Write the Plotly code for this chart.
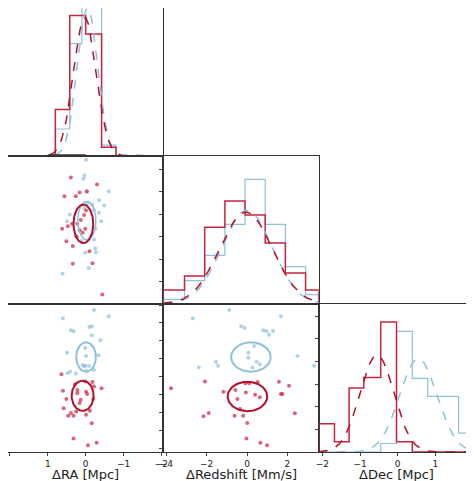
import numpy as np
import plotly.graph_objects as go
from plotly.subplots import make_subplots

RED = "#c8243e"
DARK_RED = "#b2102b"
BLUE = "#8fc1dc"

# axis ranges (RA reversed)
ra_range = [2.05, -2.05]
z_range = [-4.15, 3.55]
dec_range = [-2.1, 2.03]

# 1D histograms: bin edges and heights
ra_red_edges = [0.8, 0.42, 0.0, -0.42, -0.8]
ra_red_h = [43, 130, 113, 8]
ra_blue_edges = [0.8, 0.42, 0.1, -0.42, -0.8]
ra_blue_h = [25, 104, 150, 10]

z_edges = [-4.15, -3.1, -2.1, -1.1, -0.1, 0.9, 1.9, 2.9, 3.55]
z_red_h = [15, 30, 82, 110, 95, 65, 33, 15]
z_blue_h = [5, 25, 52, 85, 133, 85, 40, 10]

dec_edges = [-2.1, -1.68, -1.29, -0.9, -0.45, -0.03, 0.39, 0.8, 1.2, 1.62, 2.03]
dec_red_h = [30, 11, 68, 79, 138, 11, 0, 0, 0, 0]
dec_blue_h = [0, 0, 0, 0, 9, 128, 78, 59, 59, 20]

# gaussian fits: mean, sigma, peak
ra_red_fit = (0.02, 0.3, 128)
ra_blue_fit = (-0.05, 0.27, 137)
z_red_fit = (-0.05, 1.3, 98)
z_blue_fit = (0.0, 1.25, 100)
dec_red_fit = (-0.55, 0.45, 103)
dec_blue_fit = (0.55, 0.5, 99)

# scatter: RA vs Redshift
ra_z_red_ra = [0.39, -0.30, 0.56, 0.26, 0.16, -0.03, -0.01, 0.04, 0.13, 0.22, 0.36, 0.47, 0.62, 0.16, 0.01, 0.24, 0.51, 0.34, -0.10, -0.18, 0.34, -0.44, 0.08]
ra_z_red_z = [2.43, 2.07, 1.45, 1.45, 1.65, 1.71, 0.71, 0.48, 0.22, 0.02, 0.02, -0.11, -0.24, -0.31, -0.24, -0.64, -0.88, -1.13, -1.41, -2.03, -2.06, -3.66, -0.44]
ra_z_blue_ra = [-0.01, 0.03, 0.06, -0.03, -0.61, -0.35, -0.49, -0.17, -0.04, -0.22, -0.35, 0.42, -0.41, 0.49, -0.26, -0.22, 0.11, -0.25, -0.27, 0.01, -0.08, 0.61, 0.04]
ra_z_blue_z = [3.35, 2.53, 2.37, 1.66, 1.71, 1.25, 0.97, 1.01, 1.06, 0.73, 0.60, 0.51, 0.15, 0.15, -0.23, -0.80, -0.87, -1.26, -1.46, -1.49, -2.28, -2.57, 0.84]

# scatter: RA vs Dec
ra_dec_blue_ra = [-0.22, 0.60, -0.61, 0.39, 0.32, -0.10, -0.16, -0.16, -0.39, 0.49, 0.01, -0.34, -0.01, 0.08, 0.04, 0.01, -0.09, -0.22, -0.01, 0.41, 0.48, 0.26]
ra_dec_blue_dec = [1.86, 1.63, 1.69, 1.30, 1.27, 1.39, 1.41, 1.16, 1.02, 0.67, 0.80, 0.60, 0.58, 0.33, 0.30, 0.31, 0.30, 0.19, 0.17, 0.14, 0.10, 0.09]
ra_dec_red_ra = [0.64, 0.28, 0.01, -0.18, -0.22, -0.42, 0.60, 0.22, -0.01, 0.22, -0.04, 0.51, 0.13, -0.20, 0.16, 0.58, 0.25, -0.11, 0.39, 0.46, 0.32, -0.01, -0.16, 0.32, -0.29, -0.06]
ra_dec_red_dec = [0.07, -0.21, -0.13, -0.15, -0.27, -0.32, -0.39, -0.37, -0.42, -0.46, -0.48, -0.62, -0.64, -0.62, -0.73, -0.88, -0.97, -0.95, -1.01, -1.09, -1.09, -1.06, -1.30, -1.72, -1.84, -1.91]

# scatter: Redshift vs Dec
z_dec_blue_z = [-0.88, -2.69, 1.68, -0.29, -0.12, 0.80, 0.96, 1.29, 1.09, 0.35, 0.07, 2.50, -1.54, -1.44, -2.39, 0.47, 0.63, 3.32, 0.27, 0.07]
z_dec_blue_dec = [1.86, 1.63, 1.69, 1.41, 1.37, 1.30, 1.27, 1.28, 1.17, 0.86, 0.67, 0.58, 0.42, 0.31, 0.26, 0.42, 0.35, 0.31, 0.26, 0.53]
z_dec_red_z = [-2.09, -3.77, -1.17, -0.09, 0.11, 0.53, 1.58, 2.08, 1.68, 1.75, -0.58, -0.06, -0.48, 0.40, 0.63, -0.35, -1.90, -2.16, -0.62, -0.19, 2.37, 0.01, -0.03, 0.66, 0.99]
z_dec_red_dec = [-0.13, -0.32, -0.42, -0.18, -0.18, -0.15, -0.14, -0.25, -0.48, -0.48, -0.37, -0.44, -0.62, -0.50, -0.57, -0.90, -1.01, -1.10, -1.09, -1.09, -1.02, -1.29, -1.72, -1.84, -1.91]

# ellipses: cx, cy, semi-x, semi-y
ell_ra_z_red = (0.06, 0.02, 0.26, 1.0)
ell_ra_z_blue = (-0.03, 0.19, 0.24, 1.0)
ell_ra_dec_red = (0.08, -0.53, 0.29, 0.42)
ell_ra_dec_blue = (-0.01, 0.55, 0.26, 0.41)
ell_z_dec_red = (0.02, -0.55, 0.98, 0.41)
ell_z_dec_blue = (0.19, 0.55, 0.98, 0.41)

axis_titles = ["ΔRA [Mpc]", "ΔRedshift [Mm/s]", "ΔDec [Mpc]"]

fig = make_subplots(rows=3, cols=3, horizontal_spacing=0, vertical_spacing=0)


def step(edges, h, color, r, c, width=1.5):
    xs, ys = [edges[0]], [0]
    for i, v in enumerate(h):
        xs += [edges[i], edges[i + 1]]
        ys += [v, v]
    xs.append(edges[-1]); ys.append(0)
    fig.add_trace(go.Scatter(x=xs, y=ys, mode="lines", line=dict(color=color, width=width),
                             showlegend=False, hoverinfo="skip"), row=r, col=c)


def gauss(fit, rng, color, r, c):
    mu, sd, amp = fit
    xs = np.linspace(min(rng), max(rng), 200)
    ys = amp * np.exp(-0.5 * ((xs - mu) / sd) ** 2)
    fig.add_trace(go.Scatter(x=xs, y=ys, mode="lines", line=dict(color=color, width=1.5, dash="dash"),
                             showlegend=False, hoverinfo="skip"), row=r, col=c)


def ellipse(e, color, r, c, width=2):
    cx, cy, a, b = e
    t = np.linspace(0, 2 * np.pi, 100)
    fig.add_trace(go.Scatter(x=cx + a * np.cos(t), y=cy + b * np.sin(t), mode="lines",
                             line=dict(color=color, width=width), showlegend=False,
                             hoverinfo="skip"), row=r, col=c)


def pts(x, y, color, r, c):
    fig.add_trace(go.Scatter(x=x, y=y, mode="markers", marker=dict(color=color, size=4, opacity=0.7),
                             showlegend=False), row=r, col=c)


# diagonal
step(ra_blue_edges, ra_blue_h, BLUE, 1, 1, 1.2)
step(ra_red_edges, ra_red_h, RED, 1, 1)
fig.add_trace(go.Scatter(x=list(ra_range), y=[0, 0], mode="lines", line=dict(color=RED, width=1.5),
                         showlegend=False), row=1, col=1)
gauss(ra_blue_fit, ra_range, BLUE, 1, 1)
gauss(ra_red_fit, ra_range, DARK_RED, 1, 1)

step(z_edges, z_blue_h, BLUE, 2, 2, 1.2)
step(z_edges, z_red_h, RED, 2, 2)
gauss(z_blue_fit, z_range, BLUE, 2, 2)
gauss(z_red_fit, z_range, DARK_RED, 2, 2)

step(dec_edges, dec_blue_h, BLUE, 3, 3, 1.2)
step(dec_edges, dec_red_h, RED, 3, 3)
gauss(dec_blue_fit, dec_range, BLUE, 3, 3)
gauss(dec_red_fit, dec_range, DARK_RED, 3, 3)

# off-diagonal
pts(ra_z_blue_ra, ra_z_blue_z, BLUE, 2, 1)
pts(ra_z_red_ra, ra_z_red_z, RED, 2, 1)
ellipse(ell_ra_z_blue, BLUE, 2, 1, 1.5)
ellipse(ell_ra_z_red, DARK_RED, 2, 1)

pts(ra_dec_blue_ra, ra_dec_blue_dec, BLUE, 3, 1)
pts(ra_dec_red_ra, ra_dec_red_dec, RED, 3, 1)
ellipse(ell_ra_dec_blue, BLUE, 3, 1)
ellipse(ell_ra_dec_red, DARK_RED, 3, 1)

pts(z_dec_blue_z, z_dec_blue_dec, BLUE, 3, 2)
pts(z_dec_red_z, z_dec_red_dec, RED, 3, 2)
ellipse(ell_z_dec_blue, BLUE, 3, 2)
ellipse(ell_z_dec_red, DARK_RED, 3, 2)

xr = {1: ra_range, 2: z_range, 3: dec_range}
yr = {(1, 1): [0, 137], (2, 1): z_range, (2, 2): [0, 158], (3, 1): dec_range,
      (3, 2): dec_range, (3, 3): [0, 157]}
frame = dict(showline=True, linecolor="#333", linewidth=1.2, mirror=True, zeroline=False,
             showgrid=False, automargin=False)
for (r, c), yrng in yr.items():
    fig.update_xaxes(range=xr[c], showticklabels=(r == 3), ticks="outside" if r == 3 else "",
                     ticklen=3, tickfont=dict(size=9, color="#222"), **frame, row=r, col=c)
    fig.update_yaxes(range=yrng, showticklabels=False,
                     ticks="outside" if c > 1 else "", ticklen=3, **frame, row=r, col=c)
for r, c in [(1, 2), (1, 3), (2, 3)]:
    fig.update_xaxes(visible=False, row=r, col=c)
    fig.update_yaxes(visible=False, row=r, col=c)

fig.update_xaxes(tickvals=[2, 1, 0, -1, -2], ticktext=["2", "1", "0", "−1", "−2"], row=3, col=1)
fig.update_xaxes(tickvals=[-4, -2, 0, 2], ticktext=["−4", "−2", "0", "2"], row=3, col=2)
fig.update_xaxes(tickvals=[-2, -1, 0, 1, 2], ticktext=["−2", "−1", "0", "1", "2"], row=3, col=3)
fig.update_yaxes(dtick=24, row=2, col=2)
fig.update_yaxes(dtick=0.5, row=3, col=2)
fig.update_yaxes(dtick=24, row=3, col=3)

for i, t in enumerate(axis_titles):
    fig.add_annotation(text=t, xref="paper", yref="paper", x=(i + 0.5) / 3, y=0, yshift=-22,
                       xanchor="center", yanchor="middle", showarrow=False,
                       font=dict(size=13, color="#222"))

# frame lines around empty (2,3) panel
fig.add_shape(type="line", xref="x6 domain", yref="y6 domain", x0=0, x1=1, y0=1, y1=1,
              line=dict(color="#333", width=1.2))
fig.add_shape(type="line", xref="x6 domain", yref="y6 domain", x0=0, x1=0, y0=0, y1=1,
              line=dict(color="#333", width=1.2))

fig.update_layout(width=466, height=473, margin=dict(l=0, r=0, t=0, b=29, autoexpand=False),
                  plot_bgcolor="white", paper_bgcolor="white",
                  font=dict(family="DejaVu Sans", color="#222"))
fig.write_html("out.html")
